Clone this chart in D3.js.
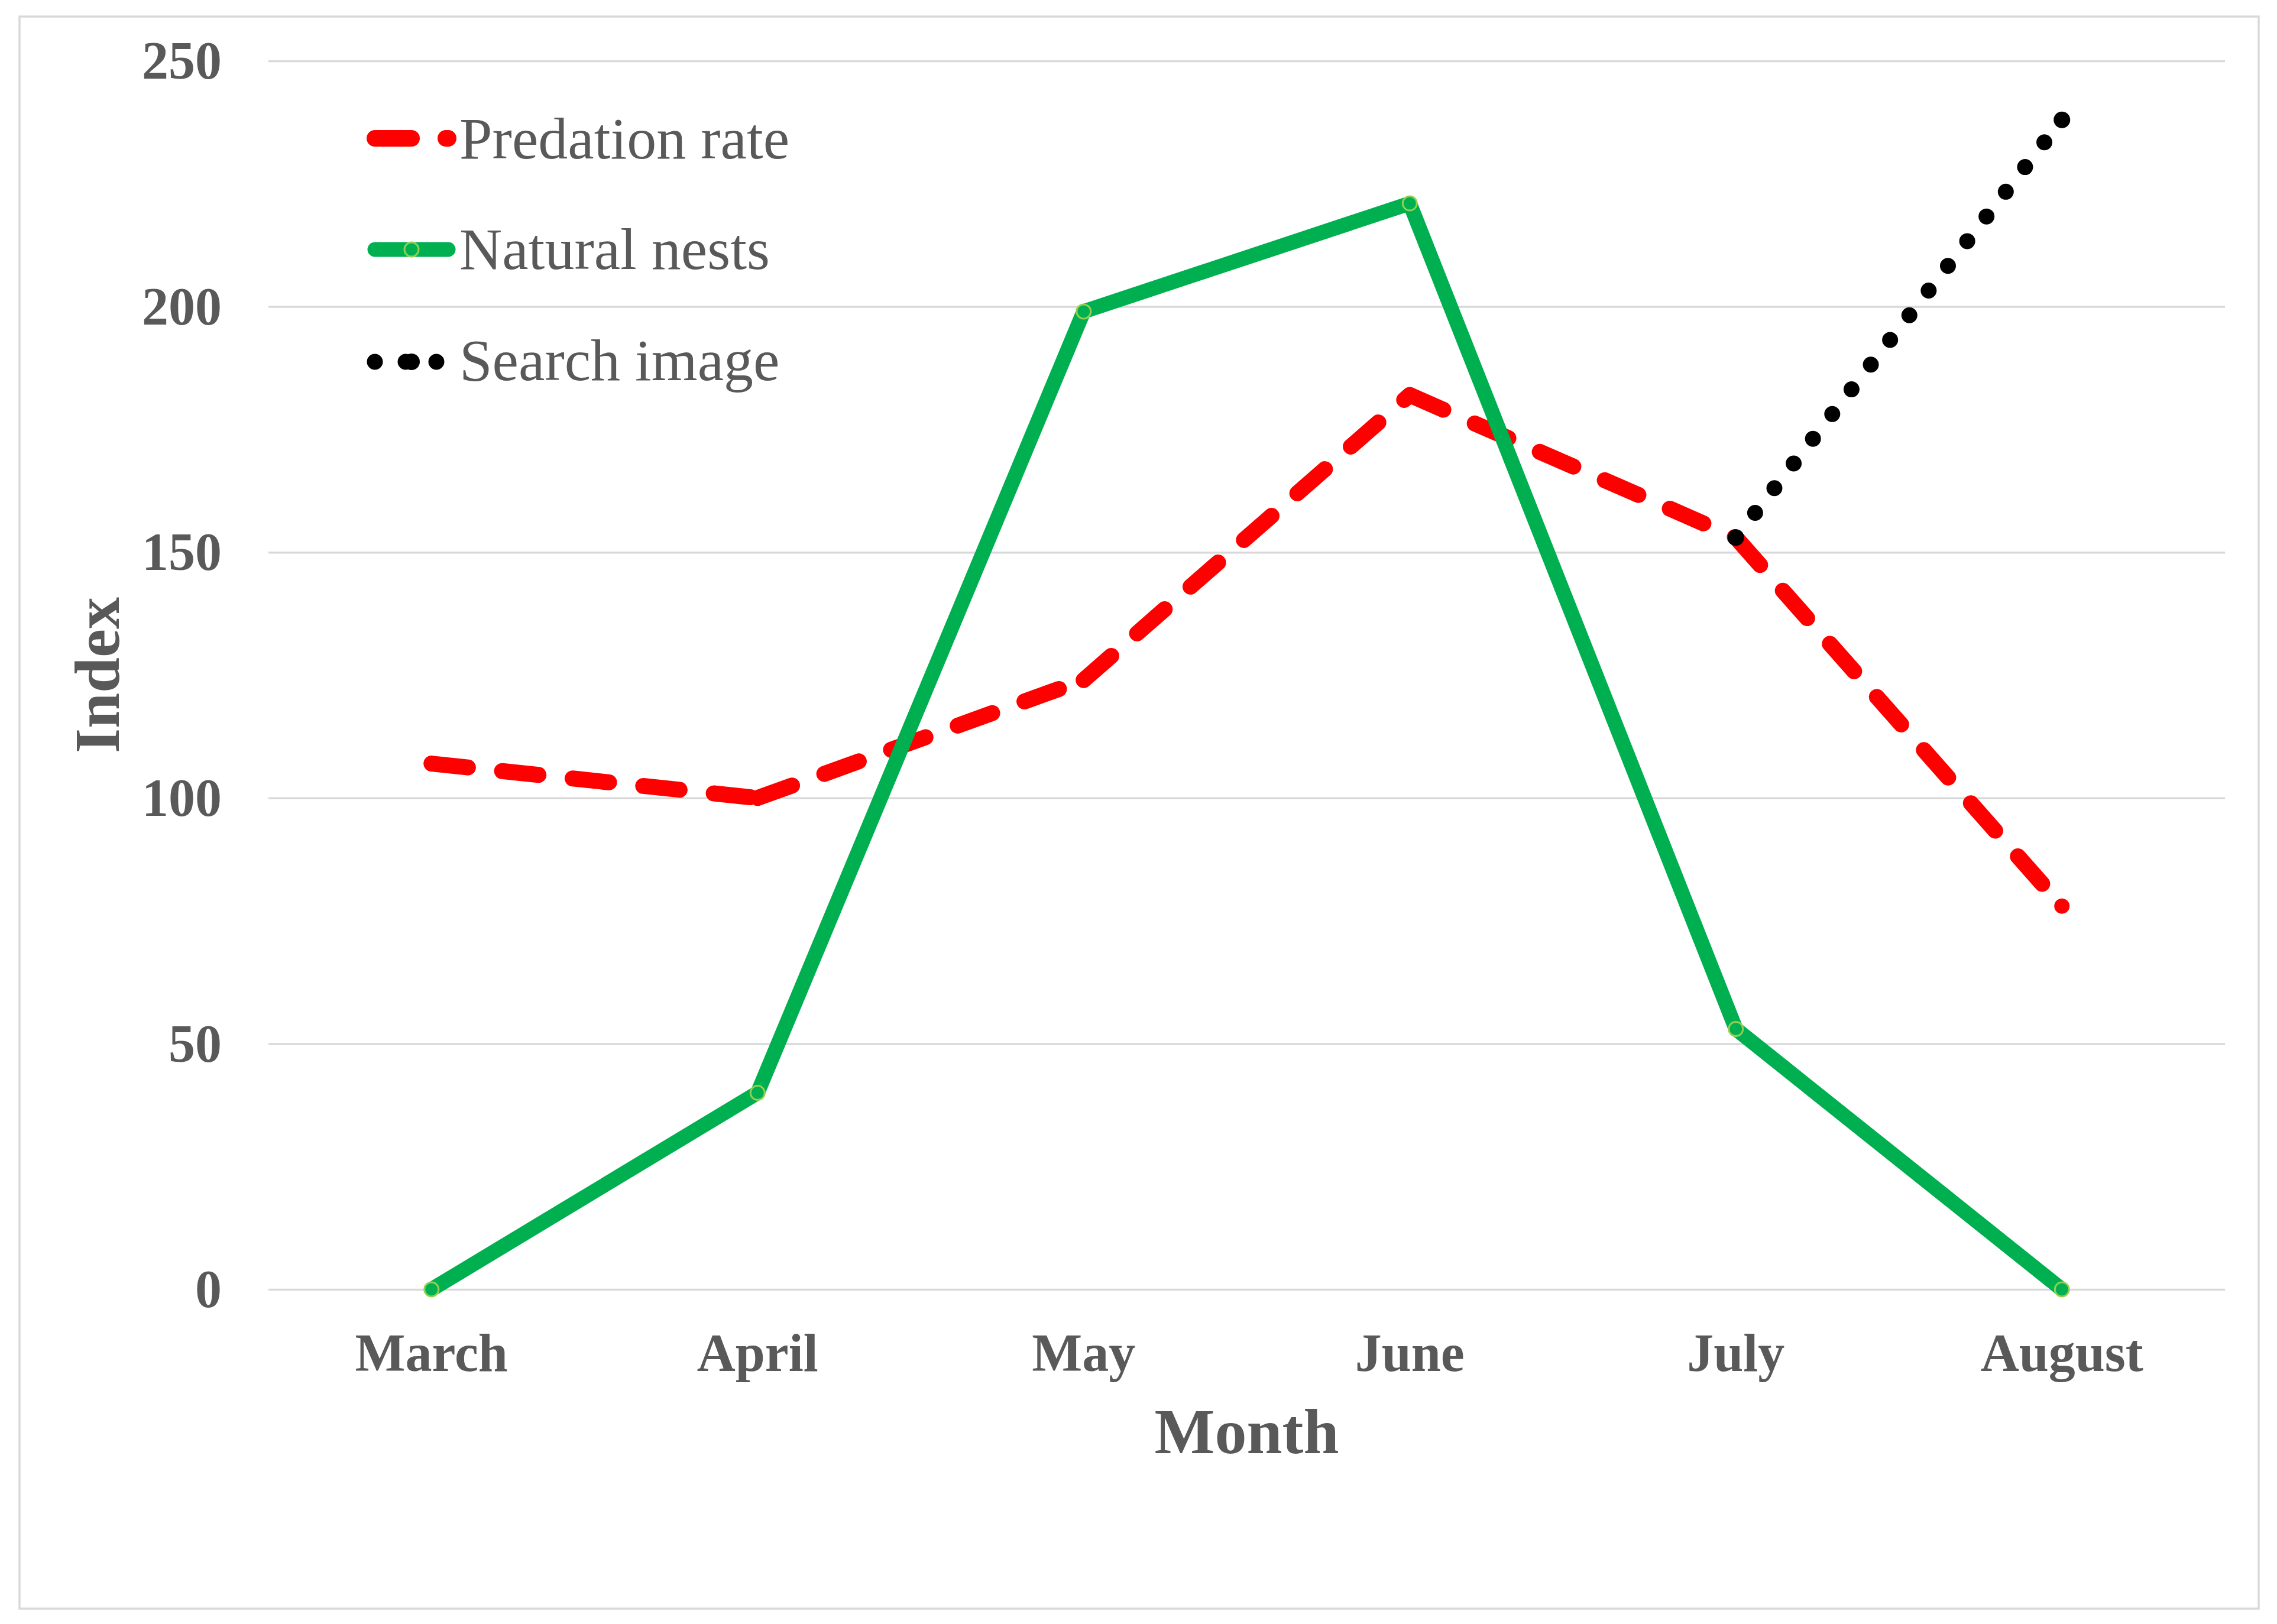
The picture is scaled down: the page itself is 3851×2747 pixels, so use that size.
<!DOCTYPE html>
<html>
<head>
<meta charset="utf-8">
<script src="https://cdn.jsdelivr.net/npm/d3@7"></script>
<style>
  html, body { margin: 0; padding: 0; background: #ffffff; }
  svg { display: block; }
</style>
</head>
<body>
<script>
// ---- data ----
const months = ["March", "April", "May", "June", "July", "August"];
const predationRate = [107, 100, 124, 182, 153, 78];
const naturalNests = [0, 40, 199, 221, 53, 0];
const searchImage = [null, null, null, null, 153, 238];
const yTicks = [0, 50, 100, 150, 200, 250];
const seriesNames = ["Predation rate", "Natural nests", "Search image"];

// ---- layout ----
const W = 3851, H = 2747;
const plot = { left: 454, right: 3763, top: 103, bottom: 2181 };
const textColor = "#595959";
const gridColor = "#d9d9d9";
const fontFamily = "'Liberation Serif', 'Times New Roman', Times, serif";

const svg = d3.select("body").append("svg")
  .attr("width", W).attr("height", H);

svg.append("rect").attr("width", W).attr("height", H).attr("fill", "#ffffff");

// outer chart border
svg.append("rect")
  .attr("x", 33).attr("y", 28)
  .attr("width", 3820 - 33).attr("height", 2721 - 28)
  .attr("fill", "none").attr("stroke", gridColor).attr("stroke-width", 3.5);

const x = d3.scaleBand().domain(months).range([plot.left, plot.right]).padding(0);
const cx = m => x(m) + x.bandwidth() / 2;
const y = d3.scaleLinear().domain([0, 250]).range([plot.bottom, plot.top]);

// gridlines + y labels via axis
const yAxis = d3.axisLeft(y).tickValues(yTicks)
  .tickSize(-(plot.right - plot.left)).tickPadding(80).tickFormat(d3.format("d"));
const gy = svg.append("g").attr("transform", `translate(${plot.left},0)`).call(yAxis);
gy.select(".domain").remove();
gy.selectAll(".tick line").attr("stroke", gridColor).attr("stroke-width", 3.5);
gy.selectAll(".tick text")
  .attr("fill", textColor).attr("font-family", fontFamily)
  .attr("font-weight", "bold").attr("font-size", 90)
  .attr("x", 375 - plot.left).attr("dy", "0.33em");

// x axis labels
const xAxis = d3.axisBottom(x).tickSize(0).tickPadding(0);
const gx = svg.append("g").attr("transform", `translate(0,${plot.bottom})`).call(xAxis);
gx.select(".domain").remove();
gx.selectAll(".tick text")
  .attr("fill", textColor).attr("font-family", fontFamily)
  .attr("font-weight", "bold").attr("font-size", 90)
  .attr("y", 2319 - plot.bottom).attr("dy", 0);

// axis titles
svg.append("text")
  .attr("x", (plot.left + plot.right) / 2).attr("y", 2458)
  .attr("text-anchor", "middle")
  .attr("fill", textColor).attr("font-family", fontFamily)
  .attr("font-weight", "bold").attr("font-size", 108)
  .text("Month");
svg.append("text")
  .attr("transform", `translate(201,${(plot.top + plot.bottom) / 2}) rotate(-90)`)
  .attr("text-anchor", "middle")
  .attr("fill", textColor).attr("font-family", fontFamily)
  .attr("font-weight", "bold").attr("font-size", 108)
  .text("Index");

const line = d3.line()
  .defined(d => d.v !== null)
  .x(d => cx(d.m)).y(d => y(d.v));

const toPts = arr => months.map((m, i) => ({ m, v: arr[i] }));

// ---- Predation rate (red, dashed; pattern restarts per segment) ----
const redPts = toPts(predationRate);
const gRed = svg.append("g");
d3.pairs(redPts).forEach(seg => {
  gRed.append("path").attr("d", line(seg))
    .attr("fill", "none").attr("stroke", "#ff0000").attr("stroke-width", 27)
    .attr("stroke-linecap", "round").attr("stroke-linejoin", "round")
    .attr("stroke-dasharray", "62 58");
});
gRed.selectAll("circle").data(redPts).join("circle")
  .attr("cx", d => cx(d.m)).attr("cy", d => y(d.v)).attr("r", 13)
  .attr("fill", "#ff0000");

// ---- Natural nests (green, solid) ----
const greenPts = toPts(naturalNests);
const gGreen = svg.append("g");
gGreen.append("path").attr("d", line(greenPts))
  .attr("fill", "none").attr("stroke", "#00b050").attr("stroke-width", 25)
  .attr("stroke-linejoin", "round").attr("stroke-linecap", "round");
gGreen.selectAll("circle").data(greenPts).join("circle")
  .attr("cx", d => cx(d.m)).attr("cy", d => y(d.v)).attr("r", 12)
  .attr("fill", "#00b050").attr("stroke", "#92d050").attr("stroke-width", 3);

// ---- Search image (black, round dots) ----
const blackPts = toPts(searchImage);
const gBlack = svg.append("g");
gBlack.append("path").attr("d", line(blackPts))
  .attr("fill", "none").attr("stroke", "#000000").attr("stroke-width", 27)
  .attr("stroke-linecap", "round").attr("stroke-dasharray", "0 53");
gBlack.selectAll("circle").data(blackPts.filter(d => d.v !== null)).join("circle")
  .attr("cx", d => cx(d.m)).attr("cy", d => y(d.v)).attr("r", 14)
  .attr("fill", "#000000");

// ---- legend ----
const legendRows = [
  { name: seriesNames[0], color: "#ff0000", dash: "62 58", cap: "round", width: 28, marker: { fill: "#ff0000", stroke: "none", r: 13 }, lineY: 234, textY: 268 },
  { name: seriesNames[1], color: "#00b050", dash: null, cap: "round", width: 25, marker: { fill: "#00b050", stroke: "#92d050", r: 12 }, lineY: 422, textY: 455 },
  { name: seriesNames[2], color: "#000000", dash: "0 52", cap: "round", width: 27, marker: { fill: "#000000", stroke: "none", r: 14 }, lineY: 612, textY: 643 }
];
const lg = svg.append("g");
legendRows.forEach(r => {
  const p = lg.append("path")
    .attr("d", `M634,${r.lineY}L758,${r.lineY}`)
    .attr("fill", "none").attr("stroke", r.color).attr("stroke-width", r.width)
    .attr("stroke-linecap", r.cap);
  if (r.dash) p.attr("stroke-dasharray", r.dash);
  lg.append("circle").attr("cx", 696).attr("cy", r.lineY).attr("r", r.marker.r)
    .attr("fill", r.marker.fill).attr("stroke", r.marker.stroke).attr("stroke-width", 3);
  lg.append("text").attr("x", 777).attr("y", r.textY)
    .attr("fill", textColor).attr("font-family", fontFamily).attr("font-size", 100)
    .text(r.name);
});
</script>
</body>
</html>
